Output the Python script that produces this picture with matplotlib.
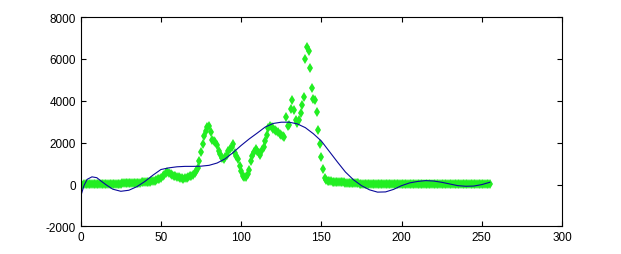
import numpy as np
from matplotlib import pyplot as plt

# green points, one per grey level 0..255
hist_x = list(range(256))
hist_y = [
    0, 0, 5, 5, 10, 10, 10, 15, 15, 15,
    20, 20, 20, 25, 25, 30, 30, 30, 35, 35,
    40, 40, 45, 45, 50, 50, 55, 60, 60, 65,
    70, 70, 75, 80, 80, 85, 90, 95, 100, 105,
    110, 120, 130, 140, 155, 170, 190, 215, 245, 280,
    330, 400, 480, 560, 590, 560, 510, 470, 430, 400,
    370, 340, 320, 300, 290, 300, 320, 350, 390, 430,
    480, 560, 650, 800, 1110, 1540, 1950, 2340, 2550, 2740,
    2800, 2500, 2150, 2100, 2020, 1870, 1600, 1440, 1280, 1220,
    1300, 1390, 1590, 1700, 1800, 1950, 1520, 1350, 1200, 910,
    640, 430, 370, 350, 520, 720, 1110, 1350, 1540, 1700,
    1600, 1520, 1390, 1640, 1800, 2100, 2390, 2710, 2790, 2750,
    2660, 2600, 2550, 2490, 2440, 2390, 2340, 2280, 3240, 2820,
    2830, 3590, 4020, 3560, 3100, 2950, 3080, 3430, 3780, 4200,
    5980, 6550, 6400, 5580, 4630, 4100, 4020, 3480, 2630, 1950,
    1330, 750, 320, 220, 180, 160, 150, 140, 130, 125,
    120, 115, 110, 105, 100, 95, 90, 85, 80, 75,
    70, 65, 60, 55, 50, 50, 45, 45, 40, 40,
    35, 35, 30, 30, 30, 25, 25, 25, 20, 20,
    20, 20, 20, 20, 15, 15, 15, 15, 15, 15,
    15, 15, 15, 10, 10, 10, 10, 10, 10, 10,
    10, 10, 10, 10, 10, 10, 10, 10, 10, 10,
    10, 10, 10, 10, 10, 10, 10, 10, 10, 10,
    10, 10, 10, 10, 10, 10, 10, 10, 10, 10,
    10, 10, 10, 10, 10, 10, 10, 10, 10, 10,
    10, 10, 10, 10, 10, 10,
]

# blue smooth fit
fit_x = [0, 2, 4, 7, 10, 13, 16, 20, 25, 30, 35, 40, 45, 50, 55, 60, 65, 70,
         75, 80, 85, 90, 95, 100, 105, 110, 115, 120, 125, 130, 135, 140, 145,
         150, 155, 160, 165, 170, 175, 180, 185, 190, 195, 200, 205, 210, 215,
         220, 225, 230, 235, 240, 245, 250, 255]
fit_y = [-560, -50, 250, 370, 330, 150, -20, -220, -320, -270, -100, 150, 450,
         720, 800, 850, 870, 870, 880, 920, 1030, 1230, 1530, 1870, 2180, 2460,
         2750, 2920, 2980, 2980, 2900, 2720, 2430, 2080, 1580, 1080, 600, 230,
         -50, -250, -360, -350, -230, -50, 80, 150, 190, 170, 110, 30, -50, -80,
         -70, 0, 110]

plt.rcParams['font.family'] = ['Liberation Sans', 'DejaVu Sans']
plt.rcParams['axes.unicode_minus'] = False

fig = plt.figure(figsize=(6.21, 2.55), dpi=100)
ax = fig.add_axes([0.130, 0.108, 0.775, 0.821])

ax.plot(hist_x, hist_y, 'd', color='#22ee22', markersize=5, markeredgewidth=0)
ax.plot(fit_x, fit_y, '-', color='#0a0a9a', linewidth=0.8)

ax.set_xlim(0, 300)
ax.set_ylim(-2000, 8000)
ax.set_xticks(np.arange(0, 301, 50))
ax.set_yticks(np.arange(-2000, 8001, 2000))
ax.tick_params(direction='in', top=True, right=True, labelsize=8.5, length=3.5, width=0.8)
for s in ax.spines.values():
    s.set_linewidth(0.8)

fig.savefig('out.png', dpi=100)
